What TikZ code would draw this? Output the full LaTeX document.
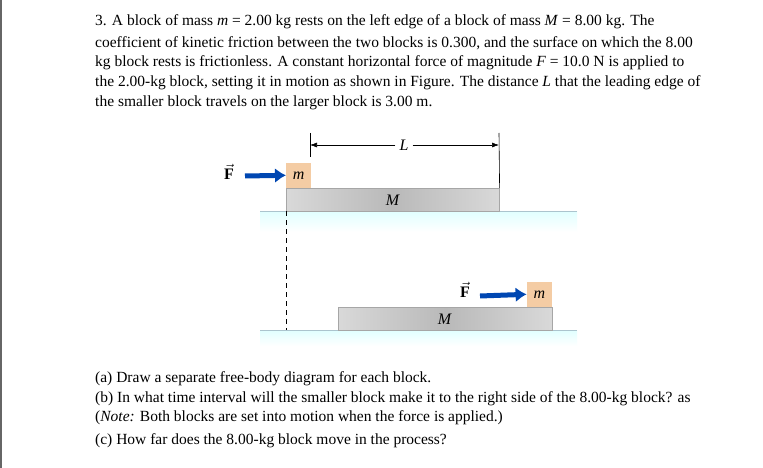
\documentclass[tikz,border=0pt]{standalone}
\usepackage{fontspec}
\setmainfont{Liberation Serif}
\usetikzlibrary{arrows.meta}
\begin{document}
\begin{tikzpicture}[x=1pt,y=-1pt,
  txt/.style={anchor=west,inner sep=0pt,font=\fontsize{15.5}{18}\selectfont},
  lbl/.style={inner sep=0pt,font=\fontsize{16}{18}\selectfont},
  blk/.style={draw=gray!70,line width=0.6pt,left color=gray!30,right color=gray!30,middle color=gray!55},
  mblk/.style={fill=brown!45!orange!40!white,draw=none,font=\fontsize{16}{18}\selectfont},
  farrow/.style={draw=blue!60!cyan!70!black,line width=5pt,-{Latex[length=11pt,width=15pt]}},
  dim/.style={line width=0.6pt},
  surf/.style={draw=cyan!30!gray!60,line width=1pt}]
\useasboundingbox (0,0) rectangle (763,468);
\fill[white] (0,0) rectangle (763,468);
\draw[gray!80!black,line width=1.5pt] (1,0) -- (1,468);
% text
\node[txt] (t1) at (95,22) {3. A block of mass \textit{m} = 2.00 kg rests on the left edge of a block of mass \textit{M} = 8.00 kg. The};
\node[txt] (t2) at (95,43) {coefficient of kinetic friction between the two blocks is 0.300, and the surface on which the 8.00};
\node[txt] (t3) at (95,63) {kg block rests is frictionless. A constant horizontal force of magnitude \textit{F} = 10.0 N is applied to};
\node[txt] (t4) at (95,83) {the 2.00-kg block, setting it in motion as shown in Figure. The distance \textit{L} that the leading edge of};
\node[txt] (t5) at (95,103) {the smaller block travels on the larger block is 3.00 m.};
\node[txt] (b1) at (95,379) {(a) Draw a separate free-body diagram for each block.};
\node[txt] (b2) at (95,399) {(b) In what time interval will the smaller block make it to the right side of the 8.00-kg block? as};
\node[txt] (b3) at (95,418) {(\textit{Note:} Both blocks are set into motion when the force is applied.)};
\node[txt] (b4) at (95,441) {(c) How far does the 8.00-kg block move in the process?};
% surfaces
\shade[top color=cyan!12,bottom color=white] (260,211) rectangle (577,232);
\draw[surf] (260,211) -- (577,211);
\shade[top color=cyan!12,bottom color=white] (260,330) rectangle (577,346);
\draw[surf] (260,330) -- (577,330);
% top
\node[blk,minimum width=213pt,minimum height=23pt,anchor=north west] (M1) at (286,188) {};
\node[lbl] at (M1) {\textit{M}};
\node[mblk,minimum width=25pt,minimum height=25pt,anchor=south west] (m1) at (286,188) {\textit{m}};
\node[lbl] (F1) at (229,172) {$\vec{\mathbf{F}}$};
\coordinate (fa1) at (245,176);
\draw[farrow] (fa1) -- (m1.west);
% dimension L
\coordinate (d1) at (310,133);
\coordinate (d2) at (499,133);
\draw[dim] (d1) -- (310,157);
\draw[dim] (d2) -- (M1.north east);
\node[lbl,fill=white,inner xsep=4pt] (L) at (404,145) {\textit{L}};
\draw[dim,-{Latex[length=7pt,width=5pt]}] (L.west) -- (310,145);
\draw[dim,-{Latex[length=7pt,width=5pt]}] (L.east) -- (499,145);
% dashed
\draw[line width=0.8pt,dash pattern=on 5pt off 4pt] (286,211) -- (286,330);
% bottom
\node[blk,minimum width=214pt,minimum height=23pt,anchor=north west] (M2) at (338,307) {};
\node[lbl] at (445,319) {\textit{M}};
\node[mblk,minimum width=25pt,minimum height=25pt,anchor=south east] (m2) at (552,307) {\textit{m}};
\node[lbl] (F2) at (465,290) {$\vec{\mathbf{F}}$};
\coordinate (fa2) at (480,296);
\draw[farrow] (fa2) -- (m2.west);
\end{tikzpicture}
\end{document}
